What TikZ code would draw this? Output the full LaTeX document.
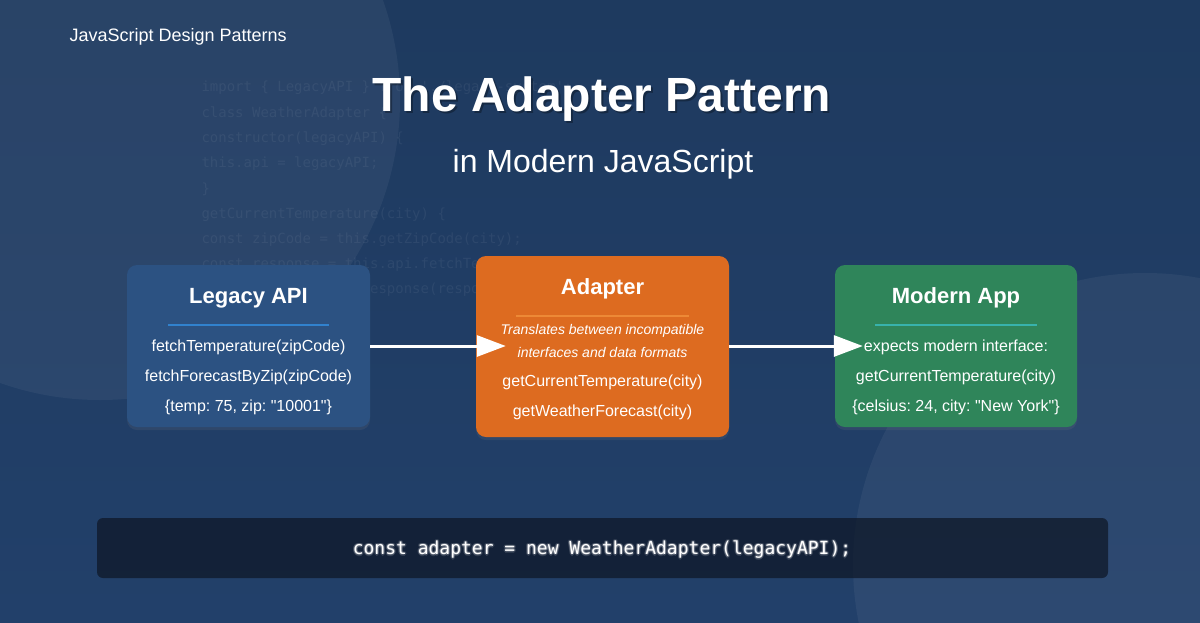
\documentclass[tikz,border=0pt]{standalone}
\usepackage{fontspec}
\setmainfont{Liberation Sans}[Ligatures=TeXOff]
\setmonofont{DejaVu Sans Mono}
\usetikzlibrary{arrows.meta,shadows}
\frenchspacing

\definecolor{bgtop}{HTML}{1E3A5F}
\definecolor{bgbot}{HTML}{22406A}
\definecolor{legacyblue}{HTML}{2C5282}
\definecolor{legacyline}{HTML}{3182CE}
\definecolor{adapterorange}{HTML}{DD6B20}
\definecolor{adapterline}{HTML}{ED8936}
\definecolor{moderngreen}{HTML}{2F855A}
\definecolor{modernline}{HTML}{38B2AC}
\definecolor{codebg}{HTML}{0F1828}

\newcommand\fsz[1]{\fontsize{#1}{#1}\selectfont}

\tikzset{
  patternbox/.style={rounded corners=10pt, inner sep=0pt,
    drop shadow={opacity=0.15, shadow xshift=0pt, shadow yshift=-3pt}},
  boxtitle/.style={text=white, font=\fsz{22}\bfseries},
  boxline/.style={text=white, font=\fsz{16}},
  boxnote/.style={text=white, font=\fsz{14}\itshape},
  bgcode/.style={anchor=west, text=white, opacity=0.06, font=\ttfamily\fsz{14}},
  rule/.style={line width=2pt},
  flow/.style={white, line width=3pt, -{Triangle[length=29pt,width=21pt]}},
}

\begin{document}
\begin{tikzpicture}[x=1pt,y=-1pt]
  \useasboundingbox (0,0) rectangle (1200,622);

  %%%%% BACKGROUND %%%%%
  \shade[top color=bgtop, bottom color=bgbot] (0,0) rectangle (1200,622);
  \begin{scope}
    \clip (0,0) rectangle (1200,622);
    \fill[white, opacity=0.05] (100,100) circle (300);
    \fill[white, opacity=0.05] (1145,565) circle (292);
  \end{scope}

  % faint code behind the title
  \foreach \codeline [count=\i] in {
      {import \{ LegacyAPI \} from './legacy-system';},
      {class WeatherAdapter \{},
      {constructor(legacyAPI) \{},
      {this.api = legacyAPI;},
      {\}},
      {getCurrentTemperature(city) \{},
      {const zipCode = this.getZipCode(city);},
      {const response = this.api.fetchTemperature(zipCode);},
      {return this.convertResponse(response);}}
    \node[bgcode] (code\i) at (198,{88+25.25*(\i-1)}) {\codeline};

  %%%%% HEADINGS %%%%%
  \node[anchor=west, text=white, font=\fsz{18}] (series) at (66,37) {JavaScript Design Patterns};
  \node[text=black, opacity=0.3, font=\fsz{48}\bfseries] at (604,101) {The Adapter Pattern};
  \node[text=white, font=\fsz{48}\bfseries] (title) at (602,99) {The Adapter Pattern};
  \node[text=white, font=\fsz{32}] (subtitle) at (603,164) {in Modern JavaScript};

  %%%%% BOXES %%%%%
  \node[patternbox, fill=legacyblue, minimum width=243pt, minimum height=162pt] (legacy) at (248.5,346) {};
  \node[patternbox, fill=adapterorange, minimum width=253pt, minimum height=181pt] (adapter) at (602.5,346.5) {};
  \node[patternbox, fill=moderngreen, minimum width=242pt, minimum height=162pt] (modern) at (956,346) {};

  % legacy api
  \node[boxtitle] (legacyname) at (248.5,298) {Legacy API};
  \draw[rule, legacyline] (168,325) -- (329,325);
  \node[boxline] (legacy1) at (248.5,347) {fetchTemperature(zipCode)};
  \node[boxline] (legacy2) at (248.5,377) {fetchForecastByZip(zipCode)};
  \node[boxline] (legacy3) at (248.5,407) {\{temp: 75, zip: "10001"\}};

  % adapter
  \node[boxtitle] (adaptername) at (602.5,289) {Adapter};
  \draw[rule, adapterline] (516,316) -- (689,316);
  \node[boxnote] (adapternote1) at (602.5,331) {Translates between incompatible};
  \node[boxnote] (adapternote2) at (602.5,352) {interfaces and data formats};
  \node[boxline] (adapter1) at (602.5,382) {getCurrentTemperature(city)};
  \node[boxline] (adapter2) at (602.5,412) {getWeatherForecast(city)};

  % modern app
  \node[boxtitle] (modernname) at (956,298) {Modern App};
  \draw[rule, modernline] (875,325) -- (1037,325);
  \node[boxline] (modern1) at (956,347) {expects modern interface:};
  \node[boxline] (modern2) at (956,377) {getCurrentTemperature(city)};
  \node[boxline] (modern3) at (956,407) {\{celsius: 24, city: "New York"\}};

  %%%%% ARROWS %%%%%
  \draw[flow] (legacy.east) -- ([xshift=30pt]adapter.west |- legacy.east);
  \draw[flow] (adapter.east |- modern.west) -- ([xshift=28pt]modern.west);

  %%%%% USAGE %%%%%
  \node[fill=codebg, fill opacity=0.75, rounded corners=6pt,
        minimum width=1011pt, minimum height=60pt] (usage) at (602.5,548) {};
  \foreach \dx/\dy in {-1.5/0, 1.5/0, 0/-1.5, 0/1.5, -1/-1, 1/1, -1/1, 1/-1}
    \node[text=white, opacity=0.12, font=\ttfamily\fsz{18}, xshift=\dx pt, yshift=\dy pt] at (602,550) {const adapter = new WeatherAdapter(legacyAPI);};
  \node[text=white, font=\ttfamily\fsz{18}] (usagecode) at (602,550) {const adapter = new WeatherAdapter(legacyAPI);};

\end{tikzpicture}
\end{document}
